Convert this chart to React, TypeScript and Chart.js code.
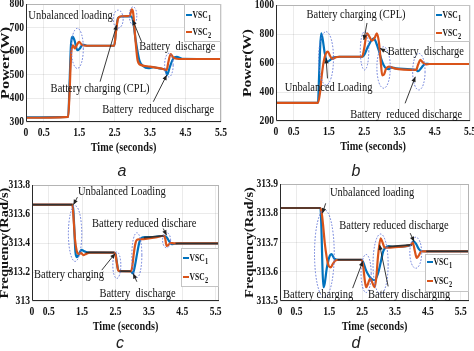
import React, { useEffect, useRef } from "react";
import { Chart, registerables } from "chart.js";

Chart.register(...registerables);

const BLUE = "rgb(0,114,189)";
const ORANGE = "rgb(217,83,25)";
const DARK = "rgb(50,50,50)";
const ELL = "rgba(95,115,215,0.95)";
const GRID = "rgba(0,0,0,0.08)";
const SERIF = "'Liberation Serif', 'Times New Roman', serif";

// ---- shared axis ----
const xTickValues = [0, 0.5, 1.5, 2.5, 3.5, 4.5, 5.5];
const xTickLabels = ["0", "0.5", "1.5", "2.5", "3.5", "4.5", "5.5"];
const legendColors = [BLUE, ORANGE];
const legendSubs = ["1", "2"];

// ---- panel a : Power (W) ----
const aYTicks = [300, 400, 500, 600, 700, 800];
const aYTickLabels = ["300", "400", "500", "600", "700", "800"];
const aVsc1Time = [0, 1.19, 1.23, 1.27, 1.32, 1.37, 1.45, 1.52, 1.6, 1.75, 2.49, 2.54, 2.6, 2.7, 2.96, 3.02, 3.1, 3.2, 3.3, 3.45, 3.6, 3.8, 3.93, 3.98, 4.06, 4.15, 4.25, 4.4, 5.5];
const aVsc1Power = [320, 322, 470, 630, 662, 645, 604, 612, 628, 623, 624, 690, 742, 747, 748, 728, 640, 560, 538, 528, 532, 526, 521, 500, 535, 568, 576, 568, 567];
const aVsc2Time = [0, 1.19, 1.23, 1.27, 1.32, 1.38, 1.44, 1.5, 1.57, 1.7, 2.49, 2.54, 2.6, 2.7, 2.93, 2.98, 3.02, 3.08, 3.15, 3.25, 3.5, 3.8, 3.97, 4.01, 4.08, 4.15, 4.25, 4.4, 5.5];
const aVsc2Power = [318, 322, 430, 580, 625, 612, 628, 640, 628, 623, 624, 685, 740, 748, 750, 777, 765, 660, 560, 541, 535, 527, 521, 550, 588, 574, 568, 567, 567];
const aNotes = [
  { text: "Unbalanced loading", t: 1.255, v: 752 },
  { text: "Battery charging (CPL)", t: 2.09, v: 443 },
  { text: "Battery  discharge", t: 4.27, v: 619 },
  { text: "Battery  reduced discharge", t: 3.73, v: 351 },
];
const aEllipses = [
  [1.447, 612, 0.17, 85],
  [2.6, 736, 0.14, 38],
  [3.02, 750, 0.105, 38],
  [4.03, 541, 0.12, 50],
];
const aArrows = [
  [2.09, 471, 2.56, 711],
  [3.26, 640, 3.01, 732],
  [3.59, 386, 3.97, 499],
];

// ---- panel b : Power (W) ----
const bYTicks = [200, 400, 600, 800, 1000];
const bYTickLabels = ["200", "400", "600", "800", "1000"];
const bVsc1Time = [0, 1.19, 1.22, 1.25, 1.28, 1.32, 1.38, 1.46, 1.54, 1.63, 1.8, 2.45, 2.5, 2.6, 2.7, 2.77, 2.84, 2.91, 2.98, 3.05, 3.13, 3.2, 3.27, 3.4, 3.97, 4.03, 4.1, 4.17, 4.24, 4.35, 5.5];
const bVsc1Power = [325, 325, 500, 700, 805, 770, 670, 609, 622, 640, 643, 643, 655, 710, 755, 770, 740, 690, 630, 586, 560, 558, 570, 563, 552, 543, 560, 582, 595, 593, 593];
const bVsc2Time = [0, 1.19, 1.25, 1.3, 1.36, 1.42, 1.47, 1.53, 1.6, 1.7, 1.8, 2.44, 2.5, 2.55, 2.58, 2.64, 2.72, 2.8, 2.86, 2.92, 2.97, 3.01, 3.06, 3.12, 3.2, 3.35, 3.97, 4.03, 4.09, 4.16, 4.25, 4.35, 5.5];
const bVsc2Power = [325, 325, 400, 520, 620, 668, 678, 650, 628, 640, 643, 643, 700, 780, 805, 785, 755, 775, 805, 740, 610, 515, 520, 560, 575, 563, 552, 590, 621, 605, 590, 593, 593];
const bNotes = [
  { text: "Battery charging (CPL)", t: 2.27, v: 931 },
  { text: "Unbalanced Loading", t: 1.49, v: 432 },
  { text: "Battery  discharge", t: 4.25, v: 678 },
  { text: "Battery  reduced discharge", t: 3.69, v: 240 },
];
const bEllipses = [
  [1.42, 632, 0.21, 184],
  [2.51, 684, 0.12, 132],
  [3.05, 569, 0.19, 143],
  [4.05, 540, 0.176, 126],
];
const bArrows = [
  [1.46, 494, 1.42, 632],
  [3.19, 667, 2.95, 701],
  [2.58, 876, 2.49, 759],
  [3.66, 322, 3.95, 505],
];

// ---- panel c : Frequency (Rad/s) ----
const cYTicks = [313, 313.2, 313.4, 313.6, 313.8];
const cYTickLabels = ["313", "313.2", "313.4", "313.6", "313.8"];
const cVsc1Time = [0, 1.21, 1.24, 1.27, 1.3, 1.34, 1.4, 1.48, 1.55, 1.65, 2.46, 2.5, 2.54, 2.58, 2.62, 2.96, 3.02, 3.08, 3.15, 3.22, 3.3, 3.4, 3.7, 3.95, 4.03, 4.1, 4.18, 4.28, 4.4, 5.6];
const cVsc1Freq = [313.664, 313.664, 313.62, 313.48, 313.34, 313.303, 313.32, 313.352, 313.345, 313.335, 313.334, 313.325, 313.27, 313.215, 313.206, 313.205, 313.19, 313.24, 313.33, 313.41, 313.437, 313.44, 313.443, 313.45, 313.44, 313.415, 313.392, 313.395, 313.397, 313.397];
const cVsc2Time = [0, 1.21, 1.25, 1.29, 1.34, 1.4, 1.47, 1.54, 1.62, 1.72, 2.46, 2.5, 2.54, 2.58, 2.62, 2.95, 2.99, 3.04, 3.09, 3.14, 3.2, 3.4, 3.7, 3.95, 3.99, 4.03, 4.08, 4.15, 4.25, 4.4, 5.6];
const cVsc2Freq = [313.664, 313.664, 313.55, 313.42, 313.345, 313.325, 313.33, 313.316, 313.325, 313.334, 313.334, 313.32, 313.26, 313.212, 313.206, 313.205, 313.22, 313.31, 313.39, 313.422, 313.425, 313.428, 313.438, 313.45, 313.43, 313.38, 313.385, 313.4, 313.398, 313.397, 313.397];
const cDarkTime = [0, 1.21, 1.4, 1.62, 2.46, 2.55, 2.62, 2.96, 3.1, 3.35, 3.95, 4.1, 4.3, 5.6];
const cDarkFreq = [313.664, 313.664, null, 313.335, 313.334, null, 313.206, 313.205, null, 313.437, 313.45, null, 313.397, 313.397];
const cNotes = [
  { text: "Unbalanced Loading", t: 2.69, v: 313.755 },
  { text: "Battery reduced dischare", t: 3.36, v: 313.534 },
  { text: "Battery charging", t: 1.11, v: 313.179 },
  { text: "Battery  discharge", t: 3.16, v: 313.053 },
];
const cEllipses = [
  [1.29, 313.465, 0.2, 0.192],
  [2.54, 313.247, 0.12, 0.091],
  [3.14, 313.316, 0.15, 0.155],
  [4.03, 313.419, 0.12, 0.052],
];
const cArrows = [
  [1.36, 313.716, 1.24, 313.664],
  [3.93, 313.5, 4.03, 313.453],
  [2.09, 313.213, 2.49, 313.328],
  [3.14, 313.133, 3.03, 313.19],
];

// ---- panel d : Frequency (Rad/s) ----
const dYTicks = [313.5, 313.6, 313.7, 313.8, 313.9];
const dYTickLabels = ["313.5", "313.6", "313.7", "313.8", "313.9"];
const dVsc1Time = [0, 1.23, 1.26, 1.29, 1.32, 1.36, 1.42, 1.5, 1.57, 1.65, 1.8, 2.48, 2.54, 2.6, 2.66, 2.77, 2.88, 2.98, 3.06, 3.14, 3.22, 3.3, 3.45, 4.0, 4.06, 4.14, 4.22, 4.3, 4.45, 5.75];
const dVsc1Freq = [313.818, 313.818, 313.75, 313.62, 313.547, 313.56, 313.61, 313.65, 313.66, 313.645, 313.641, 313.641, 313.63, 313.61, 313.595, 313.577, 313.571, 313.594, 313.63, 313.67, 313.683, 313.688, 313.685, 313.692, 313.705, 313.695, 313.678, 313.671, 313.67, 313.67];
const dVsc2Time = [0, 1.23, 1.27, 1.31, 1.36, 1.42, 1.48, 1.54, 1.6, 1.68, 1.8, 2.48, 2.53, 2.58, 2.62, 2.68, 2.74, 2.8, 2.88, 2.93, 2.98, 3.06, 3.12, 3.18, 3.3, 3.5, 3.98, 4.04, 4.1, 4.16, 4.22, 4.3, 4.45, 5.75];
const dVsc2Freq = [313.818, 313.818, 313.8, 313.76, 313.7, 313.65, 313.62, 313.615, 313.625, 313.638, 313.641, 313.641, 313.62, 313.57, 313.547, 313.56, 313.577, 313.565, 313.547, 313.58, 313.65, 313.714, 313.7, 313.683, 313.682, 313.684, 313.692, 313.7, 313.672, 313.647, 313.655, 313.67, 313.67, 313.67];
const dDarkTime = [0, 1.23, 1.5, 1.75, 2.48, 2.6, 3.3, 4.0, 4.15, 4.45, 5.75];
const dDarkFreq = [313.818, 313.818, null, 313.641, 313.641, null, 313.686, 313.692, null, 313.67, 313.67];
const dNotes = [
  { text: "Unbalanced loading", t: 2.8, v: 313.869 },
  { text: "Battery reduced discharge", t: 3.47, v: 313.759 },
  { text: "Battery charging", t: 1.16, v: 313.523 },
  { text: "Battery discharging", t: 3.93, v: 313.523 },
];
const dEllipses = [
  [1.35, 313.662, 0.3, 0.15],
  [2.62, 313.594, 0.154, 0.065],
  [3.06, 313.626, 0.23, 0.103],
  [4.13, 313.665, 0.18, 0.053],
];
const dArrows = [
  [1.39, 313.834, 1.29, 313.8],
  [3.96, 313.732, 4.08, 313.703],
  [2.21, 313.544, 2.52, 313.636],
  [3.29, 313.55, 3.03, 313.692],
];

type Series = { t: number[]; v: (number | null)[]; color: string; width: number };
type Panel = {
  left: number; top: number; width: number; height: number;
  area: { left: number; top: number; right: number; bottom: number };
  xMax: number; yMin: number; yMax: number;
  yTicks: number[]; yTickLabels: string[];
  yTitle: string; yTitleX: number; yTitleSize: number;
  series: Series[];
  notes: { text: string; t: number; v: number }[];
  ellipses: number[][];
  arrows: number[][];
  legend: { top?: number; bottom?: number; w: number; h: number; row1: number; gap: number };
  letter: string; letterX: number; letterY: number;
};

const panels: Panel[] = [
  {
    left: 0, top: 0, width: 237, height: 175,
    area: { left: 26, top: 4, right: 221, bottom: 122 },
    xMax: 5.5, yMin: 300, yMax: 800, yTicks: aYTicks, yTickLabels: aYTickLabels,
    yTitle: "Power(W)", yTitleX: 6, yTitleSize: 16.5,
    series: [
      { t: aVsc2Time, v: aVsc2Power, color: ORANGE, width: 2.2 },
      { t: aVsc1Time, v: aVsc1Power, color: BLUE, width: 2.2 },
    ],
    notes: aNotes, ellipses: aEllipses, arrows: aArrows,
    legend: { top: 0, w: 37, h: 38, row1: 11, gap: 17 },
    letter: "a", letterX: 122, letterY: 171,
  },
  {
    left: 237, top: 0, width: 237, height: 175,
    area: { left: 39, top: 5, right: 233, bottom: 121 },
    xMax: 5.5, yMin: 200, yMax: 1000, yTicks: bYTicks, yTickLabels: bYTickLabels,
    yTitle: "Power(W)", yTitleX: 11, yTitleSize: 15.5,
    series: [
      { t: bVsc2Time, v: bVsc2Power, color: ORANGE, width: 2.2 },
      { t: bVsc1Time, v: bVsc1Power, color: BLUE, width: 2.2 },
    ],
    notes: bNotes, ellipses: bEllipses, arrows: bArrows,
    legend: { top: 0, w: 36, h: 37, row1: 10, gap: 18 },
    letter: "b", letterX: 356, letterY: 171,
  },
  {
    left: 0, top: 175, width: 237, height: 176,
    area: { left: 32, top: 10, right: 219, bottom: 126 },
    xMax: 5.6, yMin: 313, yMax: 313.8, yTicks: cYTicks, yTickLabels: cYTickLabels,
    yTitle: "Frequency(Rad/s)", yTitleX: 5, yTitleSize: 14.5,
    series: [
      { t: cDarkTime, v: cDarkFreq, color: DARK, width: 1.6 },
      { t: cVsc2Time, v: cVsc2Freq, color: ORANGE, width: 2.2 },
      { t: cVsc1Time, v: cVsc1Freq, color: BLUE, width: 2.2 },
    ],
    notes: cNotes, ellipses: cEllipses, arrows: cArrows,
    legend: { bottom: 14, w: 38, h: 39, row1: 10, gap: 19 },
    letter: "c", letterX: 120, letterY: 343,
  },
  {
    left: 237, top: 175, width: 237, height: 176,
    area: { left: 43, top: 9, right: 232, bottom: 126 },
    xMax: 5.75, yMin: 313.5, yMax: 313.9, yTicks: dYTicks, yTickLabels: dYTickLabels,
    yTitle: "Frequency(Rad/s)", yTitleX: 13, yTitleSize: 14.5,
    series: [
      { t: dDarkTime, v: dDarkFreq, color: DARK, width: 1.6 },
      { t: dVsc2Time, v: dVsc2Freq, color: ORANGE, width: 2.2 },
      { t: dVsc1Time, v: dVsc1Freq, color: BLUE, width: 2.2 },
    ],
    notes: dNotes, ellipses: dEllipses, arrows: dArrows,
    legend: { bottom: 9, w: 44, h: 38, row1: 8, gap: 19 },
    letter: "d", letterX: 356, letterY: 343,
  },
];

function txt(ctx: CanvasRenderingContext2D, s: string, x: number, y: number, font: string,
  align: CanvasTextAlign = "center", sx = 0.83, color = "#141414") {
  ctx.save();
  ctx.translate(x, y);
  ctx.scale(sx, 1);
  ctx.font = font;
  ctx.textAlign = align;
  ctx.textBaseline = "middle";
  ctx.fillStyle = color;
  ctx.fillText(s, 0, 0);
  ctx.restore();
}

function overlay(p: Panel) {
  return {
    id: "overlay",
    afterDraw(chart: any) {
      const ctx: CanvasRenderingContext2D = chart.ctx;
      const a = chart.chartArea;
      const xs = chart.scales.x, ys = chart.scales.y;
      const X = (t: number) => xs.getPixelForValue(t);
      const Y = (v: number) => ys.getPixelForValue(v);
      ctx.save();
      // box
      ctx.lineWidth = 1;
      ctx.strokeStyle = "#b4b4b4";
      ctx.beginPath();
      ctx.moveTo(a.left, a.top + 0.5); ctx.lineTo(a.right, a.top + 0.5);
      ctx.moveTo(a.right - 0.5, a.top); ctx.lineTo(a.right - 0.5, a.bottom);
      ctx.stroke();
      ctx.strokeStyle = "#2a2a2a";
      ctx.beginPath();
      ctx.moveTo(a.left + 0.5, a.top); ctx.lineTo(a.left + 0.5, a.bottom - 0.5); ctx.lineTo(a.right, a.bottom - 0.5);
      ctx.stroke();
      // ellipses
      ctx.setLineDash([1.6, 1.6]);
      ctx.strokeStyle = ELL;
      ctx.lineWidth = 1;
      for (const [t, v, rt, rv] of p.ellipses) {
        const cx = X(t), cy = Y(v);
        const rx = Math.abs(X(t + rt) - cx), ry = Math.abs(Y(v + rv) - cy);
        ctx.beginPath();
        ctx.ellipse(cx, cy, rx, ry, 0, 0, Math.PI * 2);
        ctx.stroke();
      }
      ctx.setLineDash([]);
      // arrows
      ctx.strokeStyle = "#222";
      ctx.fillStyle = "#222";
      ctx.lineWidth = 0.9;
      for (const [t1, v1, t2, v2] of p.arrows) {
        const x1 = X(t1), y1 = Y(v1), x2 = X(t2), y2 = Y(v2);
        ctx.beginPath(); ctx.moveTo(x1, y1); ctx.lineTo(x2, y2); ctx.stroke();
        const ang = Math.atan2(y2 - y1, x2 - x1);
        const L = 5, W = 2.2;
        const bx = x2 - L * Math.cos(ang), by = y2 - L * Math.sin(ang);
        ctx.beginPath();
        ctx.moveTo(x2, y2);
        ctx.lineTo(bx + W * Math.sin(ang), by - W * Math.cos(ang));
        ctx.lineTo(bx - W * Math.sin(ang), by + W * Math.cos(ang));
        ctx.closePath();
        ctx.fill();
      }
      // annotation texts
      for (const n of p.notes) txt(ctx, n.text, X(n.t), Y(n.v), `12.5px ${SERIF}`, "center", 0.84);
      // tick labels
      const tf = `bold 12px ${SERIF}`;
      xTickValues.forEach((v, i) => txt(ctx, xTickLabels[i], X(v), a.bottom + 11, tf, "center", 0.8));
      p.yTicks.forEach((v, i) => txt(ctx, p.yTickLabels[i], a.left - 2, Y(v), tf, "right", 0.8));
      // axis titles
      txt(ctx, "Time (seconds)", (a.left + a.right) / 2, a.bottom + 26, `bold 13.5px ${SERIF}`, "center", 0.76);
      ctx.save();
      ctx.translate(p.yTitleX, (a.top + a.bottom) / 2);
      ctx.rotate(-Math.PI / 2);
      ctx.scale(1, 0.8);
      ctx.font = `bold ${p.yTitleSize}px ${SERIF}`;
      ctx.textAlign = "center";
      ctx.textBaseline = "middle";
      ctx.fillStyle = "#141414";
      ctx.fillText(p.yTitle, 0, 0);
      ctx.restore();
      // legend
      const lg = p.legend;
      const lx = a.right - lg.w;
      const ly = lg.top !== undefined ? a.top + lg.top : a.bottom - (lg.bottom as number) - lg.h;
      ctx.fillStyle = "#fff";
      ctx.fillRect(lx, ly, lg.w, lg.h);
      ctx.strokeStyle = "#c4c4c4";
      ctx.lineWidth = 1;
      ctx.strokeRect(lx + 0.5, ly + 0.5, lg.w - 1, lg.h - 1);
      legendColors.forEach((c, i) => {
        const yy = ly + lg.row1 + i * lg.gap;
        ctx.strokeStyle = c;
        ctx.lineWidth = 2;
        ctx.beginPath(); ctx.moveTo(lx + 2, yy); ctx.lineTo(lx + 8, yy); ctx.stroke();
        const f = `bold 10.5px ${SERIF}`;
        txt(ctx, "VSC", lx + 8.5, yy, f, "left", 0.72);
        ctx.font = f;
        const w = ctx.measureText("VSC").width * 0.72;
        txt(ctx, legendSubs[i], lx + 8.5 + w + 0.5, yy + 4, `bold 7.5px ${SERIF}`, "left", 0.85);
      });
      ctx.restore();
    },
  };
}

function PanelChart({ p }: { p: Panel }) {
  const ref = useRef<HTMLCanvasElement>(null);
  useEffect(() => {
    const canvas = ref.current as HTMLCanvasElement;
    const chart = new Chart(canvas, {
      type: "line",
      data: {
        datasets: p.series.map((s, i) => ({
          data: s.t.map((t, j) => ({ x: t, y: s.v[j] })),
          borderColor: s.color,
          borderWidth: s.width,
          pointRadius: 0,
          fill: false,
          spanGaps: false,
          cubicInterpolationMode: "monotone",
          order: i,
        })),
      } as any,
      options: {
        responsive: false,
        maintainAspectRatio: false,
        animation: false,
        events: [],
        layout: { padding: { left: 0, top: p.area.top, right: p.width - p.area.right, bottom: 0 } },
        plugins: { legend: { display: false }, tooltip: { enabled: false }, title: { display: false } },
        scales: {
          x: {
            type: "linear", min: 0, max: p.xMax,
            afterBuildTicks: (s: any) => { s.ticks = xTickValues.map((v) => ({ value: v })); },
            afterFit: (s: any) => { s.height = p.height - p.area.bottom; },
            ticks: { display: false },
            grid: { color: GRID, drawTicks: false, lineWidth: 1 },
            border: { display: false },
          },
          y: {
            type: "linear", min: p.yMin, max: p.yMax,
            afterBuildTicks: (s: any) => { s.ticks = p.yTicks.map((v) => ({ value: v })); },
            afterFit: (s: any) => { s.width = p.area.left; },
            ticks: { display: false },
            grid: { color: GRID, drawTicks: false, lineWidth: 1 },
            border: { display: false },
          },
        },
      } as any,
      plugins: [overlay(p)],
    });
    return () => chart.destroy();
  }, []);
  return (
    <canvas
      ref={ref}
      width={p.width}
      height={p.height}
      style={{ position: "absolute", left: p.left, top: p.top, width: p.width, height: p.height }}
    />
  );
}

export default function App() {
  return (
    <div style={{ position: "absolute", left: 0, top: 0, width: 474, height: 351, background: "#fff", overflow: "hidden" }}>
      {panels.map((p, i) => (
        <React.Fragment key={i}>
          <PanelChart p={p} />
          <div
            style={{
              position: "absolute", left: p.letterX, top: p.letterY, transform: "translate(-50%, -50%)",
              fontFamily: "'Liberation Sans', Arial, sans-serif", fontStyle: "italic", fontSize: 16, color: "#222",
              lineHeight: 1,
            }}
          >
            {p.letter}
          </div>
        </React.Fragment>
      ))}
    </div>
  );
}
